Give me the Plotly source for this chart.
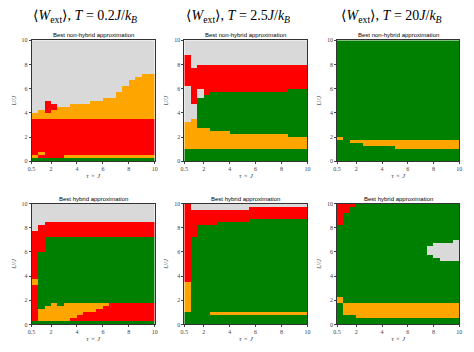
import plotly.graph_objects as go

# ---------------- data ----------------
# cell centres of the simulated (tau*J, U/J) grid
tau = [0.75 + 0.5 * i for i in range(19)]
U = [0.125 + 0.25 * j for j in range(40)]

temps = ["0.2", "2.5", "20"]
row_titles = ["Best non-hybrid approximation", "Best hybrid approximation"]
x_label = "τ × J"
y_label = "U/J"

# category codes: X = grey (none), O = orange, R = red, G = green
# each panel: list of (number of tau columns, "cat:top ..." profile from U=0 upward)
nonhyb_T02 = [
    (1, "G.25 O.5 R3.5 O4 X10"),
    (1, "G.25 R.5 O.75 R3.5 O4.25 X10"),
    (1, "G.25 R3.5 O4 R5 X10"),
    (1, "G.25 R3.5 O4.25 R4.75 X10"),
    (1, "G.25 R3.5 O4.5 X10"),
    (1, "G.25 O.5 R3.5 O4.5 X10"),
    (3, "G.25 O.5 R3.5 O4.75 X10"),
    (2, "G.25 O.5 R3.5 O5 X10"),
    (2, "G.25 O.5 R3.5 O5.25 X10"),
    (1, "G.25 O.5 R3.5 O5.75 X10"),
    (1, "G.25 O.5 R3.5 O6.25 X10"),
    (1, "G.25 O.5 R3.5 O6.75 X10"),
    (1, "G.25 O.5 R3.5 O7 X10"),
    (2, "G.25 O.5 R3.5 O7.25 X10"),
]
nonhyb_T25 = [
    (1, "G1 O3.25 X6.25 R8.75 X10"),
    (1, "G1 O3.5 X4.75 R7.75 X10"),
    (1, "G1 O2.75 G5.25 X6 R8 X10"),
    (1, "G1 O2.75 G5.5 R8 X10"),
    (3, "G1 O2.5 G5.75 R8 X10"),
    (9, "G1 O2.25 G5.75 R8 X10"),
    (3, "G1 O2 G6 R8 X10"),
]
nonhyb_T20 = [
    (1, "G1.75 O2 G10"),
    (1, "G10"),
    (2, "G1.5 O1.75 G10"),
    (5, "G1.25 O1.75 G10"),
    (10, "G1 O1.75 G10"),
]
hyb_T02 = [
    (1, "G.25 R3.25 O3.75 R7.75 X10"),
    (1, "G.25 O1.25 G6 R8.25 X10"),
    (1, "G.25 O1.5 G7.25 R8.5 X10"),
    (1, "G.25 O1.75 G7.25 R8.5 X10"),
    (1, "G.25 O1.5 G7.25 R8.5 X10"),
    (1, "G.25 O1.75 G7.25 R8.5 X10"),
    (1, "G.25 R.5 O1.75 G7.25 R8.5 X10"),
    (1, "G.25 R.75 O1.75 G7.25 R8.5 X10"),
    (2, "G.25 R1 O1.75 G7.25 R8.5 X10"),
    (1, "G.25 R1.25 O1.75 G7.25 R8.5 X10"),
    (1, "G.25 R1.5 O1.75 G7.25 R8.5 X10"),
    (7, "G.25 R1.75 G7.25 R8.5 X10"),
]
hyb_T25 = [
    (1, "G1 O3.5 R10"),
    (1, "G7.25 R9.5 X10"),
    (2, "G8.25 R9.5 X10"),
    (1, "G.75 O1 G8.25 R9.5 X10"),
    (5, "G.75 O1 G8.5 R9.5 X10"),
    (9, "G.75 O1 G8.75 R9.75 X10"),
]
hyb_T20 = [
    (1, "G1.75 O2.25 G8.25 R10"),
    (1, "G.75 O1.75 G9.25 R10"),
    (1, "G.75 O1.75 G9.75 R10"),
    (11, "G.5 O1.75 G10"),
    (1, "G.5 O1.75 G5.75 X6.5 G10"),
    (1, "G.5 O1.75 G5.5 X6.75 G10"),
    (2, "G.5 O1.75 G5.25 X6.75 G10"),
    (1, "G.5 O1.75 G5.25 X7 G10"),
]

panels = [nonhyb_T02, nonhyb_T25, nonhyb_T20, hyb_T02, hyb_T25, hyb_T20]

CODE = {"X": 0, "O": 1, "R": 2, "G": 3}
COLORS = ["#d9d9d9", "#ffa500", "#ff0000", "#008000"]


def build_z(profile):
    cols = []
    for n, spec in profile:
        segs = [(float(s[1:]), CODE[s[0]]) for s in spec.split()]
        col = []
        for u in U:
            for top, c in segs:
                if u < top:
                    col.append(c)
                    break
        cols.extend([col] * n)
    # transpose -> rows = U, columns = tau
    return [[cols[i][j] for i in range(len(cols))] for j in range(len(U))]


colorscale = []
for k, c in enumerate(COLORS):
    colorscale.append([k / 4, c])
    colorscale.append([(k + 1) / 4, c])

# ---------------- figure ----------------
W, H = 474, 352
xdom_px = [(28, 153), (183, 308), (338, 462)]
ydom_px = [(38, 161), (204, 327)]

fig = go.Figure()
layout = dict(width=W, height=H, margin=dict(l=0, r=0, t=0, b=0),
              paper_bgcolor="white", plot_bgcolor="white", showlegend=False)

SERIF = "Liberation Serif, DejaVu Serif, serif"
tick_font = dict(family=SERIF, size=6, color="#444")
label_font = dict(family=SERIF, size=7, color="#444", style="italic")
annotations = []

for p, prof in enumerate(panels):
    r, c = divmod(p, 3)
    idx = p + 1
    xa = "x" if idx == 1 else f"x{idx}"
    ya = "y" if idx == 1 else f"y{idx}"
    fig.add_trace(go.Heatmap(x=tau, y=U, z=build_z(prof), colorscale=colorscale,
                             zmin=-0.5, zmax=3.5, showscale=False, hoverinfo="skip",
                             xaxis=xa, yaxis=ya))
    x0, x1 = xdom_px[c]
    y0, y1 = ydom_px[r]
    layout["xaxis" if idx == 1 else f"xaxis{idx}"] = dict(
        domain=[x0 / W, x1 / W], anchor=ya, range=[0.5, 10],
        tickvals=[0.5, 2, 4, 6, 8, 10], ticktext=["0.5", "2", "4", "6", "8", "10"],
        ticks="outside", ticklen=2, tickwidth=0.6, tickcolor="#444",
        showline=True, mirror=True, linecolor="#333", linewidth=0.7,
        showgrid=False, zeroline=False, tickfont=tick_font,
        title=dict(text=x_label, font=label_font, standoff=1))
    layout["yaxis" if idx == 1 else f"yaxis{idx}"] = dict(
        domain=[1 - y1 / H, 1 - y0 / H], anchor=xa, range=[0, 10],
        tickvals=[0, 2, 4, 6, 8, 10],
        ticks="outside", ticklen=2, tickwidth=0.6, tickcolor="#444",
        showline=True, mirror=True, linecolor="#333", linewidth=0.7,
        showgrid=False, zeroline=False, tickfont=tick_font,
        title=dict(text=y_label, font=label_font, standoff=4))
    xc = (x0 + x1) / 2
    # panel sub-title
    annotations.append(dict(text=row_titles[r], x=xc / W, y=1 - (y0 - 5) / H,
                            xref="paper", yref="paper", showarrow=False,
                            xanchor="center", yanchor="middle",
                            font=dict(family="Liberation Sans, Arial, sans-serif", size=6, color="black")))

# column titles
title_cx = [82, 238, 393.5]
for c, T in enumerate(temps):
    annotations.append(dict(
        text=f"⟨<i>W</i><sub>ext</sub>⟩, <i>T</i> = {T}<i>J</i>/<i>k</i><sub><i>B</i></sub>",
        x=title_cx[c] / W, y=1 - 14 / H, xref="paper", yref="paper", showarrow=False,
        xanchor="center", yanchor="middle",
        font=dict(family=SERIF, size=14, color="black")))

layout["annotations"] = annotations
fig.update_layout(**layout)
fig.write_html("out.html")
